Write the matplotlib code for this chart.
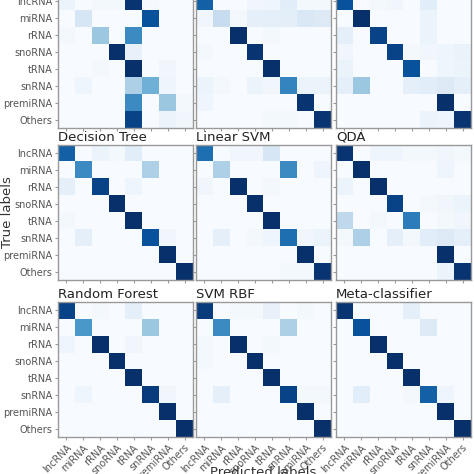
import matplotlib
matplotlib.use("Agg")
import matplotlib.pyplot as plt
import numpy as np

labels = ["lncRNA", "miRNA", "rRNA", "snoRNA", "tRNA", "snRNA", "premiRNA", "Others"]
titles = ["", "", "", "Decision Tree", "Linear SVM", "QDA", "Random Forest", "SVM RBF", "Meta-classifier"]

cm_top_left = [
    [0.05, 0.00, 0.02, 0.02, 0.90, 0.01, 0.00, 0.00],
    [0.00, 0.15, 0.00, 0.00, 0.00, 0.80, 0.00, 0.00],
    [0.02, 0.00, 0.35, 0.00, 0.60, 0.00, 0.00, 0.00],
    [0.00, 0.00, 0.00, 0.95, 0.07, 0.00, 0.00, 0.00],
    [0.00, 0.00, 0.02, 0.00, 0.95, 0.00, 0.03, 0.00],
    [0.00, 0.04, 0.00, 0.00, 0.30, 0.45, 0.04, 0.00],
    [0.00, 0.00, 0.00, 0.00, 0.60, 0.00, 0.35, 0.02],
    [0.00, 0.00, 0.00, 0.00, 0.85, 0.00, 0.05, 0.03],
]
cm_top_mid = [
    [0.75, 0.00, 0.00, 0.03, 0.04, 0.10, 0.02, 0.02],
    [0.03, 0.22, 0.02, 0.08, 0.08, 0.09, 0.13, 0.12],
    [0.00, 0.00, 0.95, 0.00, 0.02, 0.00, 0.00, 0.00],
    [0.02, 0.00, 0.00, 0.90, 0.00, 0.00, 0.00, 0.00],
    [0.00, 0.00, 0.00, 0.00, 0.97, 0.00, 0.00, 0.00],
    [0.05, 0.02, 0.00, 0.05, 0.03, 0.62, 0.05, 0.05],
    [0.04, 0.00, 0.00, 0.00, 0.00, 0.00, 0.90, 0.00],
    [0.00, 0.00, 0.00, 0.00, 0.02, 0.02, 0.00, 0.90],
]
cm_top_right = [
    [0.80, 0.00, 0.02, 0.03, 0.00, 0.10, 0.00, 0.00],
    [0.00, 0.98, 0.00, 0.00, 0.00, 0.05, 0.00, 0.00],
    [0.08, 0.00, 0.85, 0.00, 0.00, 0.05, 0.00, 0.00],
    [0.03, 0.00, 0.00, 0.85, 0.02, 0.03, 0.04, 0.06],
    [0.06, 0.00, 0.00, 0.00, 0.80, 0.00, 0.04, 0.05],
    [0.08, 0.35, 0.00, 0.00, 0.08, 0.10, 0.12, 0.08],
    [0.00, 0.00, 0.00, 0.00, 0.00, 0.00, 0.98, 0.00],
    [0.00, 0.00, 0.00, 0.00, 0.00, 0.05, 0.04, 0.90],
]
cm_decision_tree = [
    [0.75, 0.00, 0.05, 0.02, 0.10, 0.00, 0.00, 0.00],
    [0.00, 0.60, 0.00, 0.00, 0.00, 0.30, 0.00, 0.00],
    [0.08, 0.00, 0.85, 0.00, 0.04, 0.00, 0.00, 0.00],
    [0.00, 0.00, 0.00, 0.98, 0.00, 0.00, 0.00, 0.00],
    [0.02, 0.00, 0.00, 0.00, 0.97, 0.00, 0.00, 0.00],
    [0.00, 0.08, 0.00, 0.00, 0.00, 0.80, 0.03, 0.00],
    [0.00, 0.00, 0.00, 0.00, 0.00, 0.00, 0.95, 0.00],
    [0.00, 0.00, 0.00, 0.00, 0.00, 0.00, 0.00, 0.98],
]
cm_linear_svm = [
    [0.70, 0.00, 0.03, 0.03, 0.15, 0.00, 0.00, 0.00],
    [0.00, 0.30, 0.00, 0.00, 0.00, 0.60, 0.00, 0.04],
    [0.03, 0.00, 0.97, 0.00, 0.02, 0.00, 0.00, 0.00],
    [0.00, 0.00, 0.00, 0.95, 0.00, 0.00, 0.00, 0.00],
    [0.00, 0.00, 0.00, 0.00, 0.98, 0.00, 0.00, 0.00],
    [0.00, 0.08, 0.00, 0.02, 0.04, 0.70, 0.03, 0.05],
    [0.00, 0.00, 0.00, 0.00, 0.00, 0.00, 0.95, 0.00],
    [0.00, 0.00, 0.00, 0.00, 0.00, 0.02, 0.02, 0.90],
]
cm_qda = [
    [0.90, 0.00, 0.04, 0.04, 0.02, 0.02, 0.03, 0.02],
    [0.00, 0.98, 0.00, 0.00, 0.00, 0.00, 0.04, 0.00],
    [0.05, 0.00, 0.95, 0.00, 0.00, 0.00, 0.00, 0.00],
    [0.00, 0.00, 0.00, 0.85, 0.00, 0.02, 0.03, 0.05],
    [0.25, 0.00, 0.02, 0.00, 0.65, 0.00, 0.02, 0.03],
    [0.02, 0.30, 0.00, 0.08, 0.02, 0.10, 0.12, 0.08],
    [0.00, 0.00, 0.00, 0.00, 0.00, 0.00, 0.97, 0.00],
    [0.00, 0.00, 0.00, 0.00, 0.00, 0.00, 0.05, 0.90],
]
cm_random_forest = [
    [0.85, 0.00, 0.02, 0.00, 0.08, 0.00, 0.00, 0.00],
    [0.00, 0.55, 0.00, 0.00, 0.00, 0.35, 0.00, 0.00],
    [0.04, 0.00, 0.92, 0.00, 0.03, 0.00, 0.00, 0.00],
    [0.00, 0.00, 0.00, 0.98, 0.00, 0.00, 0.00, 0.00],
    [0.00, 0.00, 0.00, 0.00, 0.98, 0.00, 0.00, 0.00],
    [0.00, 0.04, 0.00, 0.00, 0.00, 0.88, 0.03, 0.00],
    [0.00, 0.00, 0.00, 0.00, 0.00, 0.00, 0.98, 0.00],
    [0.00, 0.00, 0.00, 0.00, 0.00, 0.00, 0.00, 0.98],
]
cm_svm_rbf = [
    [0.88, 0.00, 0.02, 0.02, 0.07, 0.00, 0.02, 0.00],
    [0.00, 0.60, 0.00, 0.00, 0.00, 0.30, 0.00, 0.00],
    [0.02, 0.00, 0.98, 0.00, 0.02, 0.00, 0.00, 0.00],
    [0.02, 0.00, 0.00, 0.96, 0.00, 0.00, 0.00, 0.00],
    [0.00, 0.00, 0.00, 0.00, 0.98, 0.00, 0.00, 0.00],
    [0.00, 0.08, 0.00, 0.00, 0.00, 0.85, 0.02, 0.02],
    [0.00, 0.00, 0.00, 0.00, 0.00, 0.00, 0.97, 0.00],
    [0.00, 0.00, 0.00, 0.00, 0.00, 0.00, 0.00, 0.98],
]
cm_meta = [
    [0.90, 0.00, 0.00, 0.00, 0.08, 0.00, 0.00, 0.00],
    [0.00, 0.80, 0.00, 0.00, 0.00, 0.12, 0.00, 0.00],
    [0.00, 0.00, 0.99, 0.00, 0.00, 0.00, 0.00, 0.00],
    [0.00, 0.00, 0.00, 0.99, 0.00, 0.00, 0.00, 0.00],
    [0.00, 0.00, 0.00, 0.00, 0.99, 0.00, 0.00, 0.00],
    [0.00, 0.10, 0.00, 0.00, 0.02, 0.75, 0.04, 0.00],
    [0.00, 0.00, 0.00, 0.00, 0.00, 0.00, 0.99, 0.00],
    [0.00, 0.00, 0.00, 0.00, 0.00, 0.00, 0.00, 0.98],
]
matrices = [cm_top_left, cm_top_mid, cm_top_right,
            cm_decision_tree, cm_linear_svm, cm_qda,
            cm_random_forest, cm_svm_rbf, cm_meta]

W = H = 474
fig = plt.figure(figsize=(4.74, 4.74), dpi=100)
xs = [58, 196, 336]
ys = [-7, 145, 302]
pw, ph = 135, 135
gray = "#555555"
for i, (cm, t) in enumerate(zip(matrices, titles)):
    r, c = divmod(i, 3)
    x0, y0 = xs[c], ys[r]
    ax = fig.add_axes([x0 / W, 1 - (y0 + ph) / H, pw / W, ph / H])
    ax.imshow(np.array(cm), cmap="Blues", vmin=0, vmax=0.92, aspect="auto",
              interpolation="nearest")
    for s in ax.spines.values():
        s.set_color("#999999")
        s.set_linewidth(1.0)
    ax.set_xticks(range(8))
    ax.set_yticks(range(8))
    ax.tick_params(length=2, color="#999999", labelsize=7, labelcolor=gray, pad=2)
    if c == 0:
        ax.set_yticklabels(labels)
    else:
        ax.set_yticklabels([])
    if r == 2:
        ax.set_xticklabels(labels, rotation=45, ha="right", rotation_mode="anchor")
    else:
        ax.set_xticklabels([])
    if t:
        ax.set_title(t, loc="left", fontsize=9.5, color="#222222", pad=3)

fig.text(8 / W, 1 - 212 / H, "True labels", rotation=90, va="center", ha="center",
         fontsize=9.5, color="#333333")
fig.text(263 / W, 1 - 472 / H, "Predicted labels", va="center", ha="center",
         fontsize=9.5, color="#333333")
fig.savefig("out.png", dpi=100)
